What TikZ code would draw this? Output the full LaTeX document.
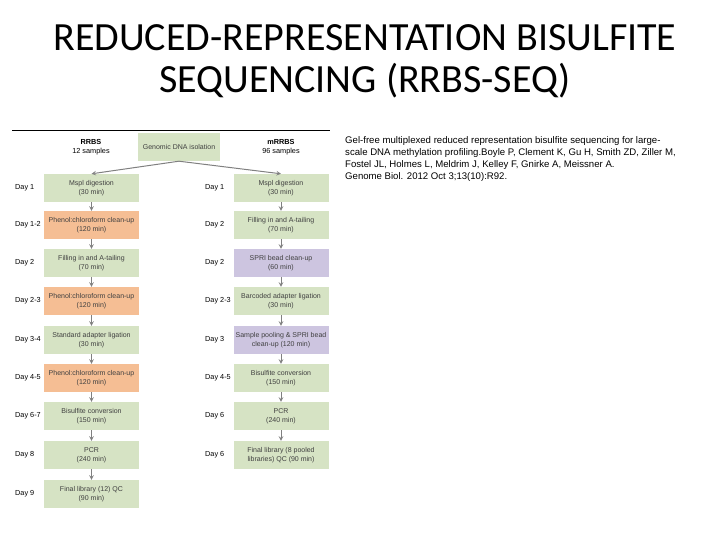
\documentclass[tikz,border=0pt]{standalone}
\usepackage{fontspec}
\setmainfont{Carlito}
\newfontfamily\arial{Liberation Sans}
\begin{document}
\begin{tikzpicture}[x=1pt,y=-1pt,
 bx/.style={minimum width=95pt,minimum height=28pt,inner sep=1pt,align=center,font=\arial\fontsize{7}{9}\selectfont,text=black!75},
 gr/.style={bx,fill={rgb,255:red,214;green,227;blue,196}},
 orr/.style={bx,fill={rgb,255:red,245;green,190;blue,148}},
 pu/.style={bx,fill={rgb,255:red,205;green,197;blue,224}},
 day/.style={anchor=west,inner sep=0,font=\arial\fontsize{7.3}{8}\selectfont},
 hd/.style={align=center,font=\arial\fontsize{7.3}{9}\selectfont},
 ar/.style={->,>=stealth,draw=gray,line width=1pt}]
\useasboundingbox (0,0) rectangle (720,540);
\node[font=\fontsize{40}{42}\selectfont,align=center] (title) at (365,61) {REDUCED-REPRESENTATION BISULFITE\\SEQUENCING (RRBS-SEQ)};
\draw[black,line width=0.6pt] (12,130) -- (330,130);
\node[gr,minimum width=82pt] (gd) at (179,147) {Genomic DNA isolation};
\node[hd] (h1) at (91,147) {\textbf{RRBS}\\12 samples};
\node[hd] (h2) at (281,147) {\textbf{mRRBS}\\96 samples};
\foreach \n/\t/\s/\y/\d in {
 l1/Mspl digestion\\(30 min)/gr/188/Day 1,
 l2/Phenol:chloroform clean-up\\(120 min)/orr/225/Day 1-2,
 l3/Filling in and A-tailing\\(70 min)/gr/263/Day 2,
 l4/Phenol:chloroform clean-up\\(120 min)/orr/301/Day 2-3,
 l5/Standard adapter ligation\\(30 min)/gr/340/Day 3-4,
 l6/Phenol:chloroform clean-up\\(120 min)/orr/378/Day 4-5,
 l7/Bisulfite conversion\\(150 min)/gr/416/Day 6-7,
 l8/PCR\\(240 min)/gr/455/Day 8,
 l9/Final library (12) QC\\(90 min)/gr/494/Day 9}
 {\node[\s] (\n) at (91.5,\y) {\t}; \node[day] (d\n) at (15,\y) {\d};}
\foreach \n/\t/\s/\y/\d in {
 r1/Mspl digestion\\(30 min)/gr/188/Day 1,
 r2/Filling in and A-tailing\\(70 min)/gr/225/Day 2,
 r3/SPRI bead clean-up\\(60 min)/pu/263/Day 2,
 r4/Barcoded adapter ligation\\(30 min)/gr/301/Day 2-3,
 r5/Sample pooling \& SPRI bead\\clean-up (120 min)/pu/340/Day 3,
 r6/Bisulfite conversion\\(150 min)/gr/378/Day 4-5,
 r7/PCR\\(240 min)/gr/416/Day 6,
 r8/Final library (8 pooled\\libraries) QC (90 min)/gr/455/Day 6}
 {\node[\s] (\n) at (281,\y) {\t}; \node[day] (d\n) at (205,\y) {\d};}
\draw[ar] (gd.south) -- (l1.north);
\draw[ar] (gd.south) -- (r1.north);
\foreach \a/\b in {l1/l2,l2/l3,l3/l4,l4/l5,l5/l6,l6/l7,l7/l8,l8/l9,r1/r2,r2/r3,r3/r4,r4/r5,r5/r6,r6/r7,r7/r8}
 \draw[ar] (\a) -- (\b);
\node[anchor=north west,align=left,font=\arial\fontsize{9.6}{12}\selectfont,inner sep=0] (cite) at (345,136) {Gel-free multiplexed reduced representation bisulfite sequencing for large-\\scale DNA methylation profiling.Boyle P, Clement K, Gu H, Smith ZD, Ziller M,\\Fostel JL, Holmes L, Meldrim J, Kelley F, Gnirke A, Meissner A.\\Genome Biol. 2012 Oct 3;13(10):R92.};
\end{tikzpicture}
\end{document}
